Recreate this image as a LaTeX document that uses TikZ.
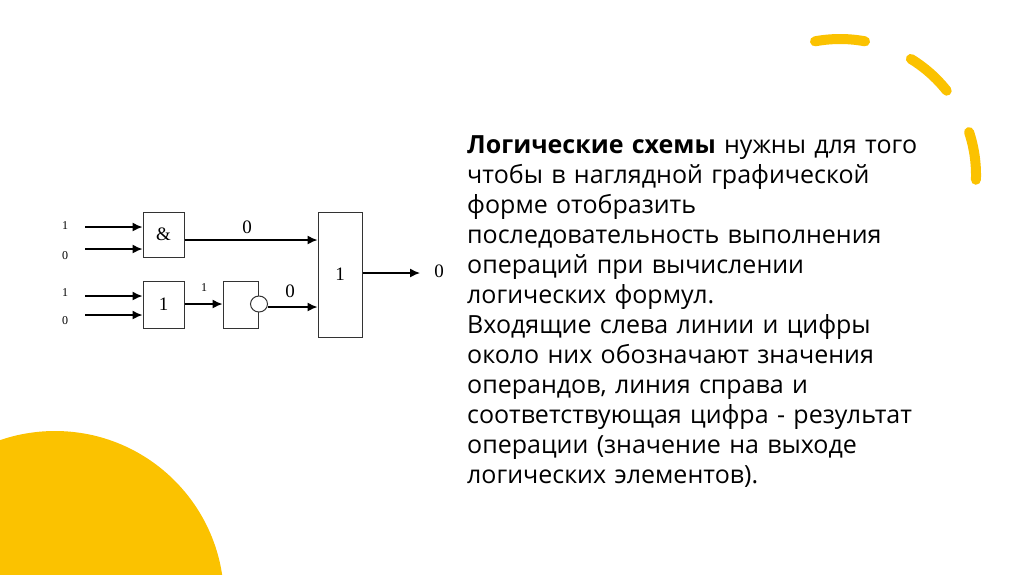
\documentclass[tikz,border=0pt]{standalone}
\usepackage{fontspec}
\setmainfont{Liberation Serif}
\newfontfamily\txtfont{Open Sans}
\usetikzlibrary{arrows.meta,shapes.geometric}
\definecolor{yel}{HTML}{FBC200}
\begin{document}
\begin{tikzpicture}[x=1pt,y=-1pt,
  gate/.style={draw=black!80,line width=1pt},
  wire/.style={line width=1.4pt,-{Latex[length=10pt,width=9pt]}},
  sl/.style={font=\fontsize{12}{12}\selectfont},
  bl/.style={font=\fontsize{19}{19}\selectfont},
  dashy/.style={yel,line width=10pt,line cap=round}]
\useasboundingbox (0,0) rectangle (1024,574);
\fill[white] (0,0) rectangle (1024,574);
\begin{scope}
\clip (0,0) rectangle (1024,574);
\fill[yel] (55,600) circle (169);
\end{scope}
\draw[dashy] (840,175) ++(-100.6:136) arc (-100.6:-79.4:136);
\draw[dashy] (840,175) ++(-58.6:136) arc (-58.6:-38.3:136);
\draw[dashy] (840,175) ++(-18.4:136) arc (-18.4:2:136);
% gates
\node[gate,minimum width=41pt,minimum height=45pt,bl] (and) at (163.5,234.5) {\&};
\node[gate,minimum width=41pt,minimum height=47pt,bl] (or) at (163.5,304.5) {1};
\node[gate,minimum width=35pt,minimum height=47pt] (not) at (240.5,304.5) {};
\node[draw=black!80,line width=1pt,fill=white,ellipse,minimum width=17pt,minimum height=16pt,inner sep=0pt] (bub) at (259,304) {};
\node[gate,minimum width=44pt,minimum height=125pt,bl] (big) at (340,274.5) {1};
% inputs
\coordinate (a1) at (85,227); \coordinate (a2) at (85,249);
\coordinate (o1) at (85,296); \coordinate (o2) at (85,315);
\draw[wire] (a1) -- (a1 -| and.west);
\draw[wire] (a2) -- (a2 -| and.west);
\draw[wire] (o1) -- (o1 -| or.west);
\draw[wire] (o2) -- (o2 -| or.west);
\node[sl] (la1) at (65,226) {1};
\node[sl] (la2) at (65,256) {0};
\node[sl] (lo1) at (65,293) {1};
\node[sl] (lo2) at (65,321) {0};
\draw[wire] (and.east |- 0,240) -- (big.west |- 0,240);
\node[bl] (l1) at (247,227) {0};
\draw[wire] (or.east |- 0,304) -- (not.west |- 0,304);
\node[sl] (l2) at (204,288) {1};
\draw[wire] (bub.east |- 0,307) -- (big.west |- 0,307);
\node[bl] (l3) at (290,291) {0};
\coordinate (out) at (420,273);
\draw[wire] (big.east |- out) -- (out);
\node[bl] (l4) at (439,271) {0};
% text
\node[anchor=north west,inner sep=0pt,text width=540pt,align=left,
  font=\txtfont\fontsize{25}{30}\selectfont] (txt) at (467,135)
{\textbf{Логические схемы} нужны для того\\
чтобы в наглядной графической\\
форме отобразить\\
последовательность выполнения\\
операций при вычислении\\
логических формул.\\
Входящие слева линии и цифры\\
около них обозначают значения\\
операндов, линия справа и\\
соответствующая цифра - результат\\
операции (значение на выходе\\
логических элементов).};
\end{tikzpicture}
\end{document}
